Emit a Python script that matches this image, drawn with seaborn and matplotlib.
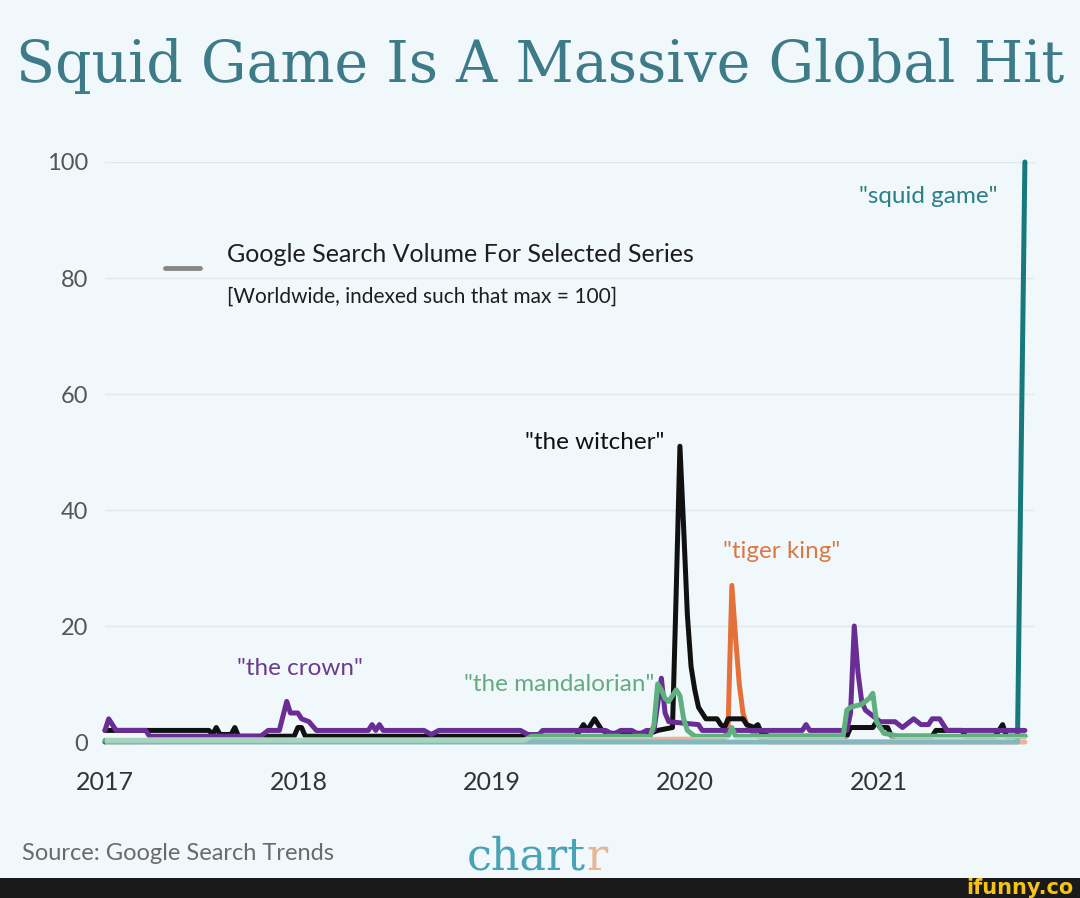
import pandas as pd
import matplotlib
matplotlib.use("Agg")
import matplotlib.pyplot as plt
import matplotlib.dates as mdates
from matplotlib.lines import Line2D
from matplotlib.patches import Rectangle
import seaborn as sns

# weekly Google Trends index (date, value)
squid_game = [("2017-01-01", 0), ("2021-09-19", 0), ("2021-10-03", 100)]

the_witcher = [
    ("2017-01-01", 2), ("2017-07-16", 2), ("2017-07-23", 1.3), ("2017-07-30", 2.5),
    ("2017-08-06", 1.3), ("2017-08-27", 1.3), ("2017-09-03", 2.5), ("2017-09-10", 1),
    ("2017-12-24", 1), ("2017-12-31", 2.5), ("2018-01-07", 2.5), ("2018-01-14", 1),
    ("2019-06-09", 1), ("2019-06-23", 3), ("2019-06-30", 2), ("2019-07-14", 4),
    ("2019-07-28", 2), ("2019-08-11", 1.5), ("2019-10-27", 1.5), ("2019-11-10", 2),
    ("2019-12-08", 2.5), ("2019-12-15", 26), ("2019-12-22", 51), ("2019-12-29", 37),
    ("2020-01-05", 22), ("2020-01-12", 13), ("2020-01-19", 9), ("2020-01-26", 6),
    ("2020-02-02", 5), ("2020-02-09", 4), ("2020-03-01", 4), ("2020-03-08", 3),
    ("2020-03-15", 2.5), ("2020-03-22", 4), ("2020-04-19", 4), ("2020-04-26", 3),
    ("2020-05-10", 2.5), ("2020-05-17", 3), ("2020-05-24", 1.5), ("2020-06-07", 1),
    ("2020-11-01", 1), ("2020-11-08", 2.5), ("2020-12-20", 2.5), ("2020-12-27", 3.5),
    ("2021-01-03", 2.5), ("2021-01-17", 2.5), ("2021-01-24", 1), ("2021-04-11", 1),
    ("2021-04-18", 2), ("2021-06-06", 2), ("2021-06-13", 1), ("2021-08-08", 1),
    ("2021-08-22", 3), ("2021-08-29", 1), ("2021-10-03", 1),
]

tiger_king = [
    ("2017-01-01", 0), ("2020-03-15", 0.5), ("2020-03-22", 3), ("2020-03-29", 27),
    ("2020-04-05", 18), ("2020-04-12", 10), ("2020-04-19", 5), ("2020-04-26", 3),
    ("2020-05-03", 2), ("2020-05-17", 1), ("2020-06-07", 0), ("2021-10-03", 0),
]

the_crown = [
    ("2017-01-01", 2), ("2017-01-08", 4), ("2017-01-22", 2), ("2017-03-19", 2),
    ("2017-03-26", 1), ("2017-10-22", 1), ("2017-11-05", 2), ("2017-11-26", 2),
    ("2017-12-10", 7), ("2017-12-17", 5), ("2017-12-31", 5), ("2018-01-07", 4),
    ("2018-01-21", 3.5), ("2018-02-04", 2), ("2018-05-13", 2), ("2018-05-20", 3),
    ("2018-05-27", 2), ("2018-06-03", 3), ("2018-06-10", 2), ("2018-08-26", 2),
    ("2018-09-09", 1.3), ("2018-09-23", 2), ("2019-02-24", 2), ("2019-03-10", 1.3),
    ("2019-03-31", 1.3), ("2019-04-07", 2), ("2019-08-04", 2), ("2019-08-18", 1.3),
    ("2019-09-01", 2), ("2019-09-22", 2), ("2019-10-06", 1.3), ("2019-10-20", 2),
    ("2019-11-03", 2), ("2019-11-17", 11), ("2019-11-24", 5), ("2019-12-01", 3.5),
    ("2020-01-26", 3), ("2020-02-02", 2), ("2020-08-09", 2), ("2020-08-16", 3),
    ("2020-08-23", 2), ("2020-11-01", 2), ("2020-11-08", 5), ("2020-11-15", 20),
    ("2020-11-22", 12), ("2020-11-29", 7), ("2020-12-06", 5.5), ("2020-12-20", 4.5),
    ("2021-01-03", 3.5), ("2021-01-31", 3.5), ("2021-02-14", 2.5), ("2021-03-07", 4),
    ("2021-03-21", 3), ("2021-04-04", 3), ("2021-04-11", 4), ("2021-04-25", 4),
    ("2021-05-02", 3), ("2021-05-09", 2), ("2021-10-03", 2),
]

the_mandalorian = [
    ("2017-01-01", 0.3), ("2019-03-03", 0.3), ("2019-03-17", 1), ("2019-10-27", 1),
    ("2019-11-03", 3), ("2019-11-10", 10), ("2019-11-17", 9), ("2019-11-24", 7.5),
    ("2019-12-01", 7), ("2019-12-08", 8), ("2019-12-15", 9), ("2019-12-22", 8),
    ("2019-12-29", 4), ("2020-01-05", 2), ("2020-01-19", 1), ("2020-03-22", 1),
    ("2020-03-29", 2.5), ("2020-04-05", 1), ("2020-10-25", 1), ("2020-11-01", 5.5),
    ("2020-11-08", 6), ("2020-11-29", 6.5), ("2020-12-06", 7), ("2020-12-13", 7.5),
    ("2020-12-20", 8.4), ("2020-12-27", 3.5), ("2021-01-03", 2.5), ("2021-01-10", 1.5),
    ("2021-02-07", 1), ("2021-10-03", 1),
]

# drawing order: first is at the bottom
series = {
    '"tiger king"': tiger_king,
    '"squid game"': squid_game,
    '"the witcher"': the_witcher,
    '"the crown"': the_crown,
    '"the mandalorian"': the_mandalorian,
}
colors = {
    '"squid game"': "#17797c",
    '"the witcher"': "#111111",
    '"tiger king"': "#e4703a",
    '"the crown"': "#6a2d93",
    '"the mandalorian"': "#5faf7f",
}
text_colors = {
    '"squid game"': "#2a8086",
    '"the witcher"': "#111111",
    '"tiger king"': "#d97a45",
    '"the crown"': "#6b3b8c",
    '"the mandalorian"': "#66ab80",
}
y_ticks = [0, 20, 40, 60, 80, 100]
x_ticks = ["2017", "2018", "2019", "2020", "2021"]

BG = "#f1f8fc"

frames = []
for name, pts in series.items():
    d = pd.DataFrame(pts, columns=["date", "value"])
    d["date"] = pd.to_datetime(d["date"])
    d["series"] = name
    frames.append(d)
df = pd.concat(frames, ignore_index=True)

sns.set_theme(style="white")
plt.rcParams["font.family"] = ["Lato", "DejaVu Sans"]

fig = plt.figure(figsize=(10.8, 8.98), dpi=100, facecolor=BG)
ax = fig.add_axes([0.0972, 0.1737, 0.8611, 0.6459])
ax.set_facecolor(BG)

sns.lineplot(data=df, x="date", y="value", hue="series", hue_order=list(series),
             palette=colors, estimator=None, linewidth=3.6, legend=False, ax=ax)
for ln in ax.lines:
    ln.set_solid_joinstyle("round")
    ln.set_solid_capstyle("round")
    ln.set_clip_on(False)

# the lowest strip of the original is washed out
ax.axhspan(-1.5, 0.9, color=BG, alpha=0.5, zorder=5, clip_on=False, linewidth=0)

ax.set_xlim(pd.Timestamp("2017-01-01"), pd.Timestamp("2021-10-22"))
ax.set_ylim(0, 100)
ax.set_xticks([pd.Timestamp(t + "-01-01") for t in x_ticks])
ax.set_xticklabels(x_ticks)
ax.set_yticks(y_ticks)
ax.set_yticklabels([str(v) for v in y_ticks])
ax.tick_params(axis="x", length=0, pad=21, labelsize=18, labelcolor="#333333")
ax.tick_params(axis="y", length=0, pad=12, labelsize=17, labelcolor="#555555")
ax.set_xlabel("")
ax.set_ylabel("")
ax.grid(axis="y", color="#e1e8ec", linewidth=1)
ax.grid(axis="x", visible=False)
for s in ax.spines.values():
    s.set_visible(False)


# series labels
def d(s):
    return mdates.date2num(pd.Timestamp(s))


ax.text(d("2021-08-12"), 94, '"squid game"', ha="right", va="center",
        fontsize=17.5, color=text_colors['"squid game"'])
ax.text(d("2019-11-23"), 51.7, '"the witcher"', ha="right", va="center",
        fontsize=17.5, color=text_colors['"the witcher"'])
ax.text(d("2020-07-01"), 32.8, '"tiger king"', ha="center", va="center",
        fontsize=17.5, color=text_colors['"tiger king"'])
ax.text(d("2019-11-04"), 10, '"the mandalorian"', ha="right", va="center",
        fontsize=17.5, color=text_colors['"the mandalorian"'])
ax.text(d("2018-01-04"), 12.6, '"the crown"', ha="center", va="center",
        fontsize=17.5, color=text_colors['"the crown"'])

# title and legend-style note
fig.text(0.5, 1 - 66 / 898, "Squid Game Is A Massive Global Hit", ha="center", va="center",
         fontsize=41, color="#3d7b88", family="DejaVu Serif")
fig.add_artist(Line2D([165 / 1080, 200 / 1080], [1 - 268 / 898] * 2, color="#888888",
                      linewidth=3.5))
fig.text(227 / 1080, 1 - 255 / 898, "Google Search Volume For Selected Series",
         ha="left", va="center", fontsize=18, color="#1e1e1e")
fig.text(227 / 1080, 1 - 297 / 898, "[Worldwide, indexed such that max = 100]",
         ha="left", va="center", fontsize=15, color="#1e1e1e")

# footer
fig.text(22 / 1080, 1 - 853 / 898, "Source: Google Search Trends", ha="left", va="center",
         fontsize=17, color="#6a6a6a")
fig.text(586 / 1080, 1 - 870 / 898, "chart", ha="right", va="baseline",
         fontsize=32, color="#4aa2b6", family="DejaVu Serif")
fig.text(586 / 1080, 1 - 870 / 898, "r", ha="left", va="baseline",
         fontsize=32, color="#e9b596", family="DejaVu Serif")
fig.add_artist(Rectangle((0, 0), 1, 20 / 898, transform=fig.transFigure,
                         facecolor="#1a1a1a", edgecolor="none"))
fig.text(1074 / 1080, 10 / 898, "ifunny.co", ha="right", va="center", fontsize=15,
         fontweight="bold", color="#f3c319", family="DejaVu Sans")

fig.savefig("out.png", dpi=100, facecolor=BG)
